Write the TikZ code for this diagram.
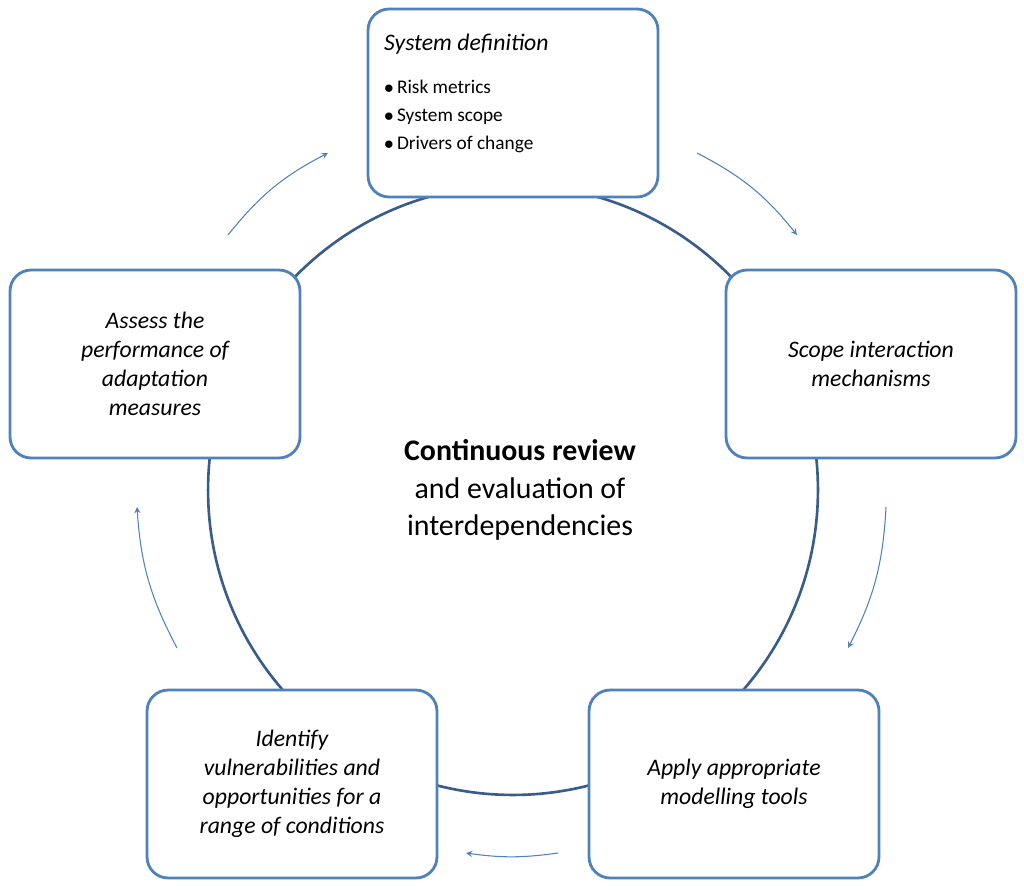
\documentclass[tikz,border=0pt]{standalone}
\usepackage{fontspec}
\setmainfont{Carlito}
\definecolor{boxblue}{RGB}{79,129,189}
\definecolor{ringblue}{RGB}{56,93,138}
\tikzset{
  stage/.style={draw=boxblue, line width=1.6pt, fill=white, rounded corners=12pt,
    minimum width=5.8cm, minimum height=3.76cm, align=center,
    font=\fontsize{13.5}{16.5}\selectfont\itshape},
  flow/.style={->, >=stealth, draw=boxblue, line width=0.6pt}
}
\begin{document}
\begin{tikzpicture}[x=0.02cm, y=-0.02cm]
\useasboundingbox (0,0) rectangle (1024,889);
\draw[ringblue, line width=1.5pt] (513,490) circle (6.1cm);

\node[stage] (sysdef) at (513,103) {};
\node[anchor=north west, font=\fontsize{13.5}{16.5}\selectfont\itshape] (sysdeft) at (378,28) {System definition};
\node[anchor=north west, align=left, font=\fontsize{11}{16}\selectfont] (bullets) at (378,74)
  {$\bullet$\,Risk metrics\\ $\bullet$\,System scope\\ $\bullet$\,Drivers of change};
\node[stage] (scope) at (871,364) {Scope interaction\\mechanisms};
\node[stage] (apply) at (734,784) {Apply appropriate\\modelling tools};
\node[stage] (ident) at (292,784) {Identify\\vulnerabilities and\\opportunities for a\\range of conditions};
\node[stage] (assess) at (155,364) {Assess the\\performance of\\adaptation\\measures};

\node[align=center, font=\fontsize{17}{21.5}\selectfont] (review) at (520,490)
  {\textbf{Continuous review}\\and evaluation of\\interdependencies};

\coordinate (a1) at (697,153); \coordinate (b1) at (797,235);
\coordinate (a2) at (886,507); \coordinate (b2) at (848,648);
\coordinate (a3) at (558,853); \coordinate (b3) at (466,853);
\coordinate (a4) at (177,648); \coordinate (b4) at (137,507);
\coordinate (a5) at (228,235); \coordinate (b5) at (328,153);
\draw[flow] (a1) to[bend left=12] (b1);
\draw[flow] (a2) to[bend left=12] (b2);
\draw[flow] (a3) to[bend left=8] (b3);
\draw[flow] (a4) to[bend left=12] (b4);
\draw[flow] (a5) to[bend left=12] (b5);
\end{tikzpicture}
\end{document}
